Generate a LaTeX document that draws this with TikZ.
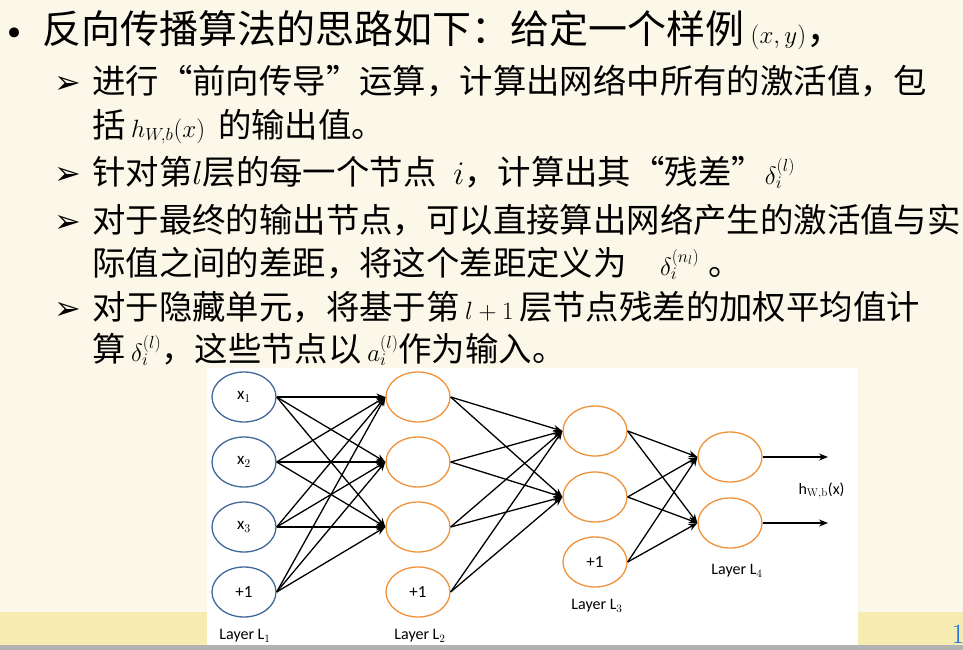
\documentclass[tikz,border=0pt]{standalone}
\usepackage{fix-cm}
\usepackage{fontspec}
\newfontfamily\cjk{Noto Sans CJK SC}
\newfontfamily\djv{DejaVu Sans}
\setsansfont{Carlito}
\usetikzlibrary{arrows.meta,shapes.geometric}
\definecolor{bg}{HTML}{FBF8E9}
\definecolor{band}{HTML}{F6EBB0}
\definecolor{blu}{HTML}{41689A}
\definecolor{org}{HTML}{F0923A}
\definecolor{pg}{HTML}{1E6FE0}
\tikzset{
 inn/.style={draw=blu,line width=1.3pt,ellipse,minimum width=64pt,minimum height=50pt,inner sep=0pt,font=\sffamily\fontsize{17}{17}\selectfont},
 hid/.style={draw=org,line width=1.3pt,ellipse,minimum width=64pt,minimum height=50pt,inner sep=0pt,font=\sffamily\fontsize{17}{17}\selectfont},
 con/.style={-{Stealth[length=9pt,width=7pt]},line width=1.3pt},
 lay/.style={font=\sffamily\fontsize{16}{16}\selectfont},
 lone/.style={anchor=base west,inner sep=0pt,font=\cjk\fontsize{39}{39}\selectfont},
 ltwo/.style={anchor=base west,inner sep=0pt,font=\cjk\fontsize{33.4}{33}\selectfont},
 mk/.style={anchor=base west,inner sep=0pt,font=\djv\bfseries\fontsize{32}{32}\selectfont}
}
\newcommand{\sm}[1]{{\fontsize{25}{25}\selectfont$#1$}}
\newcommand{\smb}[1]{{\fontsize{33}{33}\selectfont$#1$}}
\begin{document}
\begin{tikzpicture}[x=1pt,y=-1pt]
\useasboundingbox (0,0) rectangle (963,650);
\fill[bg] (0,0) rectangle (963,650);
\fill[band] (0,612) rectangle (963,645);
\fill[gray!60] (0,645) rectangle (963,650);
\fill[white] (207,368) rectangle (858,645);
\node[anchor=east,text=pg,font=\fontsize{28}{28}\selectfont] (pn) at (968,634) {1};
% text
\node[lone,font=\djv\fontsize{34}{34}\selectfont] (t0a) at (4,46) {•};
\node[lone] (t0) at (42,44) {反向传播算法的思路如下：给定一个样例\,\sm{(x,y)}，};
\node[mk] (m1) at (54,94) {➢};
\node[ltwo] (t1) at (92,94) {进行“前向传导”运算，计算出网络中所有的激活值，包};
\node[ltwo] (t2) at (92,137) {括\,\sm{h_{W,b}(x)}\, 的输出值。};
\node[mk] (m2) at (54,184) {➢};
\node[ltwo] (t3) at (92,184) {针对第\smb{l}层的每一个节点\; \smb{i}，计算出其“残差”\sm{\delta_i^{(l)}}};
\node[mk] (m3) at (54,232) {➢};
\node[ltwo] (t4) at (92,232) {对于最终的输出节点，可以直接算出网络产生的激活值与实};
\node[ltwo] (t5) at (92,275) {际值之间的差距，将这个差距定义为\quad\sm{\delta_i^{(n_l)}}\;。};
\node[mk] (m4) at (54,319) {➢};
\node[ltwo] (t6) at (92,319) {对于隐藏单元，将基于第\,\sm{l+1}\,层节点残差的加权平均值计};
\node[ltwo] (t7) at (92,361) {算\,\sm{\delta_i^{(l)}}，这些节点以\,\sm{a_i^{(l)}}作为输入。};
% network
\node[inn] (a1) at (244,397) {x$_1$};
\node[inn] (a2) at (244,462) {x$_2$};
\node[inn] (a3) at (244,527) {x$_3$};
\node[inn] (a4) at (244,592) {+1};
\node[hid] (b1) at (418,397) {};
\node[hid] (b2) at (418,462) {};
\node[hid] (b3) at (418,527) {};
\node[hid] (b4) at (418,592) {+1};
\node[hid] (c1) at (595,431) {};
\node[hid] (c2) at (595,497) {};
\node[hid] (c3) at (595,562) {+1};
\node[hid] (d1) at (730,457) {};
\node[hid] (d2) at (730,523) {};
\coordinate (o1) at (828,457);
\coordinate (o2) at (828,523);
\foreach \s in {a1,a2,a3,a4}{\foreach \t in {b1,b2,b3}{\draw[con] (\s.east) -- (\t.west);}}
\foreach \s in {b1,b2,b3,b4}{\foreach \t in {c1,c2}{\draw[con] (\s.east) -- (\t.west);}}
\foreach \s in {c1,c2,c3}{\foreach \t in {d1,d2}{\draw[con] (\s.east) -- (\t.west);}}
\draw[con] (d1.east) -- (o1);
\draw[con] (d2.east) -- (o2);
\node[lay,anchor=west] (hw) at (795,491) {h$_{\mathrm{W,b}}$(x)};
\node[lay] (L1) at (245,636) {Layer L$_1$};
\node[lay] (L2) at (420,636) {Layer L$_2$};
\node[lay] (L3) at (597,606) {Layer L$_3$};
\node[lay] (L4) at (737,571) {Layer L$_4$};
\end{tikzpicture}
\end{document}
